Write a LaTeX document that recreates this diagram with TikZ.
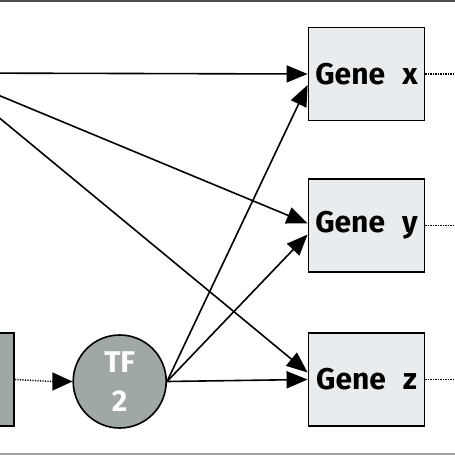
\documentclass[tikz,border=0pt]{standalone}
\usepackage{fontspec}
\setmainfont{Fira Sans}
\usetikzlibrary{arrows.meta,calc}
\definecolor{tfgray}{HTML}{9FA8A7}
\definecolor{genefill}{HTML}{E9ECEE}
\definecolor{topline}{HTML}{505050}
\definecolor{botline}{HTML}{A3A3A3}
\tikzset{
  genebox/.style={draw=black, line width=1.8pt, fill=genefill, minimum width=116pt, minimum height=93pt, inner sep=0pt, font=\fontsize{30}{30}\selectfont\bfseries},
  tfcirc/.style={circle, draw=black, line width=1.6pt, fill=tfgray, minimum size=93pt, inner sep=0pt, text=white, align=center, font=\fontsize{30}{39}\selectfont\bfseries},
  tfbox/.style={draw=black, line width=1.8pt, fill=tfgray, minimum width=94pt, minimum height=93pt, inner sep=0pt},
  act/.style={line width=1.6pt, -{Triangle[length=21pt,width=17pt]}},
  dotline/.style={line width=1.4pt, dash pattern=on 1.2pt off 1.3pt},
}
\begin{document}
\begin{tikzpicture}[x=1pt,y=-1pt]
\useasboundingbox (0,0) rectangle (455,455);
\clip (0,0) rectangle (455,455);
\fill[white] (0,0) rectangle (455,455);
% borders
\fill[topline] (0,0) rectangle (455,2.2);
\fill[botline] (0,452.6) rectangle (455,455);
% nodes
\node[genebox] (gx) at (366.5,74) {Gene\,\, x};
\node[genebox] (gy) at (366.5,225.5) {Gene\,\, y};
\node[genebox] (gz) at (366.5,379.5) {Gene\,\, z};
\node[tfcirc] (tf2) at (119.7,381.5) {TF\\2};
\node[tfbox] (lb) at (-33,379.5) {};
\coordinate (tf1) at (-55,73);
\coordinate (ex) at (470,74);
\coordinate (ey) at (470,225.5);
\coordinate (ez) at (470,379.5);
% connectors from TF1 (off the picture)
\draw[act] (tf1) -- (gx.west);
\draw[act] (tf1) -- ($(gy.west)+(0,-2)$);
\draw[act] (tf1) -- ($(gz.west)+(0,-7)$);
% connectors from TF2
\draw[act] (tf2.east) -- ($(gx.west)+(0,11)$);
\draw[act] (tf2.east) -- ($(gy.west)+(0,9)$);
\draw[act] (tf2.east) -- (gz.west);
% dotted
\draw[dotline] (lb.east) -- ($(tf2.west)+(-20,0)$);
\draw[line width=1.6pt, -{Triangle[length=20pt,width=18pt]}] ($(tf2.west)+(-20,0)$) -- (tf2.west);
\draw[dotline] (gx.east) -- (ex);
\draw[dotline] (gy.east) -- (ey);
\draw[dotline] (gz.east) -- (ez);
\end{tikzpicture}
\end{document}
